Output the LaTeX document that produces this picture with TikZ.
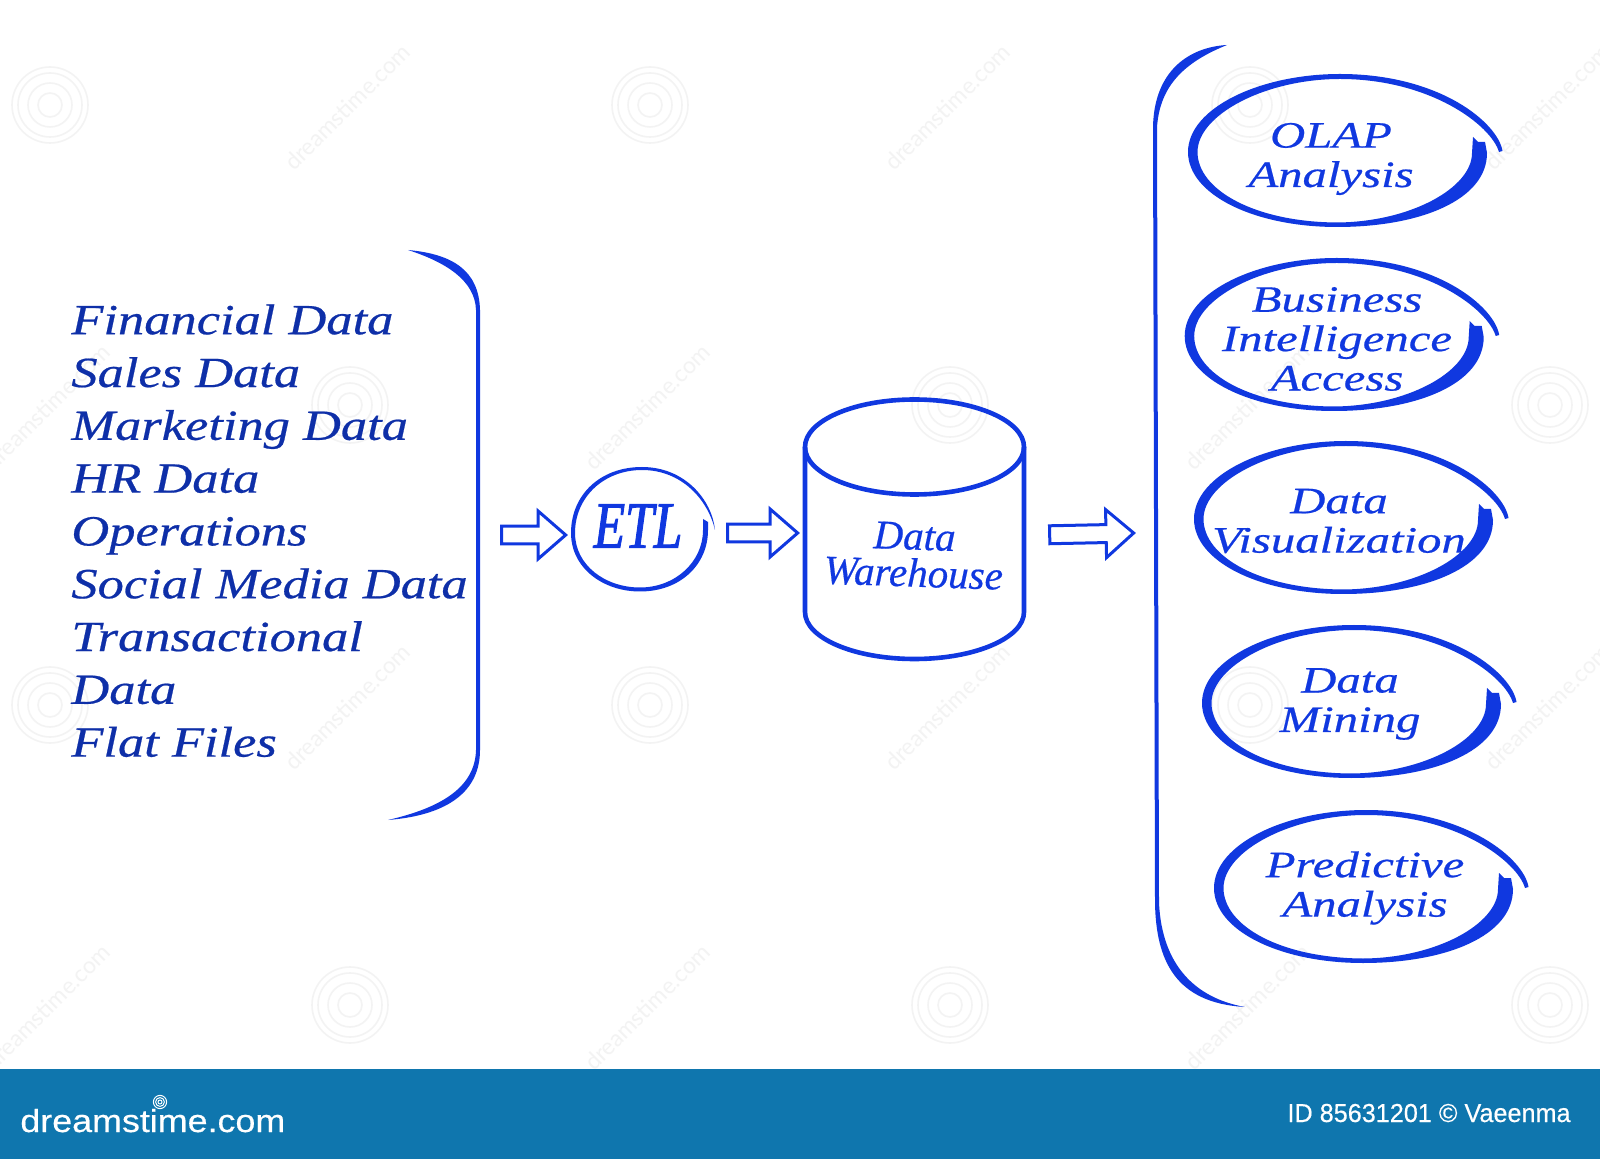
\documentclass[tikz,border=0pt]{standalone}
\usepackage{fontspec}
\usetikzlibrary{shapes.arrows}
\setmainfont{Liberation Serif}
\newfontfamily\handf[FakeStretch=1.22,FakeBold=0.5]{Liberation Serif}
\newfontfamily\handv[FakeStretch=1.31,FakeBold=0.5]{Liberation Serif}
\newfontfamily\handn[FakeBold=0.4]{Liberation Serif}
\newfontfamily\handc[FakeStretch=0.78,FakeBold=1.4]{Liberation Serif}
\newfontfamily\markf{Lato}
\newfontfamily\logof[FakeStretch=1.12,FakeBold=0.4]{Liberation Sans}
\newfontfamily\creditf[FakeStretch=0.97,FakeBold=0.4]{Liberation Sans}
\definecolor{brush}{HTML}{1038E0}
\definecolor{listblue}{HTML}{0E2FA8}
\definecolor{band}{HTML}{0F76AE}
\definecolor{mark}{HTML}{F3F3F3}
\tikzset{
  brushfill/.style={fill=brush,draw=none},
  blockarrow/.style={shape=single arrow,draw=brush,line width=1.5pt,fill=white,inner sep=3.5pt,
    single arrow head indent=0pt,single arrow tip angle=82,outer sep=0pt},
  ovaltext/.style={font=\handv\itshape\fontsize{18.6}{19.7}\selectfont,text=brush,align=center,inner sep=0pt},
  swirlmark/.style={draw=mark,line width=0.8pt},
  wordmark/.style={font=\markf\fontsize{11.5}{12}\selectfont,text=mark,rotate=45,inner sep=0pt}
}
\newcommand{\brushoval}[2]{%
  \fill[brushfill,shift={(#1,#2)}]
   (1502.5,151) .. controls (1498,123) and (1440,74) .. (1340,74)
   .. controls (1260,74) and (1188,108) .. (1188,152)
   .. controls (1188,195) and (1255,227) .. (1337,227)
   .. controls (1420,227) and (1487,200) .. (1487,153)
   -- (1485,142) -- (1478,142) -- (1473,137) -- (1472,153)
   .. controls (1472,188) and (1410,222) .. (1337,222.5)
   .. controls (1255,222) and (1197.5,190) .. (1197.5,152)
   .. controls (1197.5,115) and (1265,79) .. (1340,79)
   .. controls (1430,79) and (1491,125) .. (1499,152) -- cycle;}
\begin{document}
\begin{tikzpicture}[x=0.5pt,y=-0.5pt]
\useasboundingbox (0,0) rectangle (1600,1159);
\fill[white] (0,0) rectangle (1600,1159);
% watermarks
\foreach \mx/\my in {50/105,650/105,1250/105,350/405,950/405,1550/405,50/705,650/705,1250/705,350/1005,950/1005,1550/1005}{
  \foreach \mr in {6pt,11pt,16pt,19pt}{\draw[swirlmark] (\mx,\my) circle[radius=\mr];}
}
\foreach \mx/\my in {347/107,947/107,1547/107,47/407,647/407,1247/407,347/707,947/707,1547/707,47/1007,647/1007,1247/1007}{
  \node[wordmark] at (\mx,\my) {dreamstime.com};
}
% source list
\node[anchor=north west,align=left,inner sep=0pt,text=listblue,
      font=\handf\itshape\fontsize{21.5}{26.4}\selectfont] (sources) at (71,304)
 {Financial Data\\Sales Data\\Marketing Data\\HR Data\\Operations\\Social Media Data\\Transactional\\Data\\Flat Files};
% left bracket
\fill[brushfill] (408,250) .. controls (452,254) and (479,270) .. (480,310) -- (480,750)
  .. controls (480,790) and (450,815) .. (388,820)
  .. controls (440,808) and (475,788) .. (476,750) -- (476,310)
  .. controls (475,280) and (445,262) .. (408,250) -- cycle;
% arrows
\node[blockarrow,minimum height=32pt,minimum width=24pt] (arrowa) at (528.5,535) {};
\node[blockarrow,minimum height=35pt,minimum width=24pt] (arrowb) at (757.5,533) {};
\node[blockarrow,minimum height=42pt,minimum width=24pt,rotate=1.2] (arrowc) at (1086.5,534) {};
% ETL
\fill[brushfill] (715,530) .. controls (712,500) and (685,467) .. (642,467)
  .. controls (600,467) and (571,495) .. (571,533)
  .. controls (571,568) and (603,591.5) .. (640,591.5)
  .. controls (680,591.5) and (708,565) .. (708,530) -- (708,522) -- (703,519) -- (703,530)
  .. controls (703,562) and (675,587.5) .. (640,587.5)
  .. controls (605,587.5) and (575,565) .. (575,533)
  .. controls (575,497) and (604,470) .. (642,470)
  .. controls (682,470) and (708,500) .. (715,530) -- cycle;
\node[font=\handc\itshape\fontsize{33}{33}\selectfont,text=brush,inner sep=0pt] (etl) at (638,526) {ETL};
% cylinder
\draw[draw=brush,line width=2.3pt] (914.5,447) ellipse[x radius=54.75pt,y radius=23.75pt];
\draw[draw=brush,line width=2.3pt] (805,447) -- (805,612) arc[start angle=180,end angle=360,x radius=54.75pt,y radius=23.5pt] -- (1024,447);
\node[font=\handn\itshape\fontsize{20.5}{18.5}\selectfont,text=brush,align=center,inner sep=0pt,rotate=-2] (warehouse) at (914,555) {Data\\Warehouse};
% right bracket
\fill[brushfill] (1227,45) .. controls (1190,47) and (1154,70) .. (1153,127) -- (1155,903)
  .. controls (1156,960) and (1175,1003) .. (1245,1007)
  .. controls (1195,998) and (1162,965) .. (1159,903) -- (1157,127)
  .. controls (1160,85) and (1185,62) .. (1227,45) -- cycle;
% ovals
\brushoval{0}{0}
\brushoval{-3.3}{184}
\brushoval{6}{367}
\brushoval{14}{551}
\brushoval{26}{736}
\node[ovaltext] (olap) at (1331,159) {OLAP\\Analysis};
\node[ovaltext] (bi) at (1337,339) {Business\\Intelligence\\Access};
\node[ovaltext] (viz) at (1339,521) {Data\\Visualization};
\node[ovaltext] (mining) at (1350,704) {Data\\Mining};
\node[ovaltext] (pred) at (1365,888) {Predictive\\Analysis};
% band
\fill[band] (0,1069) rectangle (1600,1159);
\node[anchor=base west,font=\logof\fontsize{16}{16}\selectfont,text=white,inner sep=0pt] (logo) at (20,1132) {dreamstime.com};
\foreach \mr in {1pt,2.2pt,3.3pt}{\draw[white,line width=0.5pt] (160,1102) circle[radius=\mr];}
\node[anchor=base east,font=\creditf\fontsize{13}{13}\selectfont,text=white,inner sep=0pt] (credit) at (1571,1122) {ID 85631201 © Vaeenma};
\end{tikzpicture}
\end{document}
